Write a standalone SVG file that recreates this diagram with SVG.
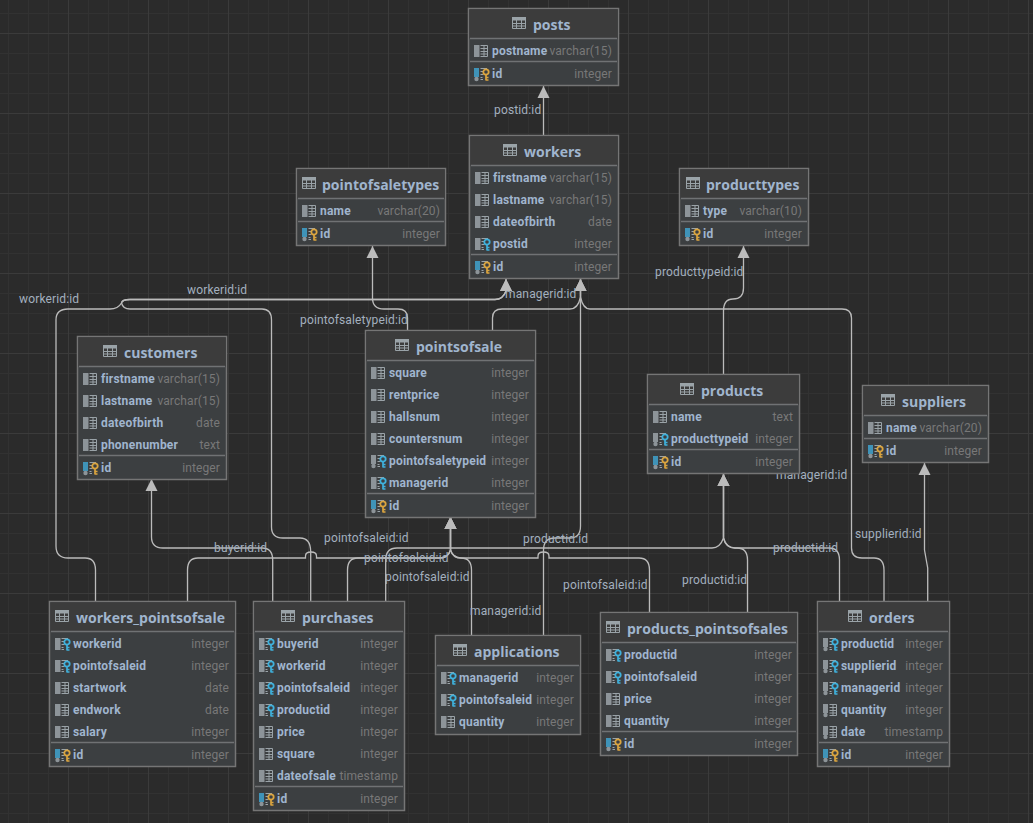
<svg xmlns="http://www.w3.org/2000/svg" xmlns:xlink="http://www.w3.org/1999/xlink" width="1033" height="823" viewBox="0 0 1033 823">
<style>
text{font-family:Roboto,"Open Sans","DejaVu Sans",sans-serif}
.nb{fill:#3c3f41;stroke:#757575;stroke-width:1.5}
.th{fill:#3c3c3c}
.sp{stroke:#707274;stroke-width:1.5;fill:none}
.t{font-family:"Open Sans","Noto Sans",sans-serif;font-size:14px;font-weight:700;fill:#a0b5ce}
.n{font-size:12px;font-weight:700;fill:#a0b5ce;letter-spacing:.2px}
.y{font-size:12px;fill:#787878;text-anchor:end;letter-spacing:.1px}
.l{font-size:12px;fill:#a3b0bf;letter-spacing:.15px}
.c{fill:none;stroke:#bbbbbb;stroke-width:1.3}
</style>
<defs>
<pattern id="gm" width="20" height="20" patternUnits="userSpaceOnUse" x="8" y="13"><path d="M0.5 0V20M0 0.5H20" stroke="#323232" fill="none"/></pattern>
<pattern id="gM" width="80" height="80" patternUnits="userSpaceOnUse" x="68" y="33"><path d="M0.5 0V80M0 0.5H80" stroke="#3b3b3b" fill="none"/></pattern>
<marker id="ar" markerUnits="userSpaceOnUse" markerWidth="13" markerHeight="13" refX="12" refY="6.5" orient="auto" viewBox="0 0 13 13"><path d="M12 6.5L0 0.5V12.5Z" fill="#bbbbbb"/></marker>
<g id="tb"><path d="M0.5 0.5H13.5V11.5H0.5Z" fill="#3c3c3c" stroke="#9aa3a8"/><path d="M0 0H14V3.5H0Z" fill="#9aa3a8"/><path d="M0 6.5H14M0 9H14M4.5 3V12M9.5 3V12" stroke="#9aa3a8" fill="none"/></g>
<g id="gr"><path d="M6.5 -5.5H13.5V5.5H6.5M10 -5.5V5.5M6.5 -2.5H13.5M6.5 0.5H13.5M6.5 3H13.5" stroke="#9aa3a8" fill="none"/></g>
<g id="gs"><path d="M6.5 -5.5H13M6.5 -2.5H9M6.5 0.5H9M6.5 3.5H8.5M6.5 5.5H9" stroke="#9aa3a8" fill="none"/></g>
<g id="col"><rect x="0" y="-6" width="5.5" height="12" fill="#8d9499"/><use href="#gr"/></g>
<g id="cold"><rect x="0" y="-6" width="5" height="9" fill="#8d9499"/><circle cx="2.5" cy="5" r="2.2" fill="#8d9499"/><use href="#gr"/></g>
<g id="ky"><circle cx="12" cy="-2" r="2.7" fill="none" stroke="#3fb1dc" stroke-width="1.8"/><path d="M12 0.5V6.5M12 3.5H14.5M12 6H14.5" stroke="#3fb1dc" stroke-width="1.7" fill="none"/></g>
<g id="fk"><rect x="0" y="-6" width="5.5" height="12" fill="#8d9499"/><use href="#gs"/><use href="#ky"/></g>
<g id="fkd"><rect x="0" y="-6" width="5" height="9" fill="#8d9499"/><circle cx="2.5" cy="5" r="2.2" fill="#8d9499"/><use href="#gs"/><use href="#ky"/></g>
<g id="pk"><rect x="0" y="-6" width="5" height="9" fill="#3f93b8"/><circle cx="2.5" cy="5" r="2.2" fill="#8d9499"/><use href="#gs"/><circle cx="12" cy="-2" r="2.7" fill="none" stroke="#dba53f" stroke-width="1.8"/><path d="M12 0.5V6.5M12 3.5H14.5M12 6H14.5" stroke="#dba53f" stroke-width="1.7" fill="none"/></g>
</defs>
<rect width="1033" height="823" fill="#2b2b2b"/>
<rect width="1033" height="823" fill="url(#gm)"/>
<rect width="1033" height="823" fill="url(#gM)"/>

<g id="connectors">
<path class="c" marker-end="url(#ar)" d="M543.5 135V86"/>
<path class="c" marker-end="url(#ar)" d="M407.5 330V318Q407.5 309 398 309H384Q372.5 309 372.5 298V246"/>
<path class="c" marker-end="url(#ar)" d="M492.5 330V318Q492.5 309 502 309H570Q578 309 580.5 297V279"/>
<path class="c" marker-end="url(#ar)" d="M884 601V570Q884 558 874 558H862Q851.5 558 851.5 548V318Q851.5 309 842 309H590Q583 309 580.5 297V279"/>
<path class="c" marker-end="url(#ar)" d="M543.5 635V550Q543.5 538 555 538H570Q580.5 538 580.5 526V279"/>
<path class="c" marker-end="url(#ar)" d="M95.5 601V570Q95.5 558 85 558H68Q56 558 56 546V320Q56 309 68 309H110Q118 309 121.5 303Q122 299.5 130 299.5H495Q503 299.5 506 291V279"/>
<path class="c" marker-end="url(#ar)" d="M310.7 601V552Q310.7 538 300 538H283Q271.5 538 271.5 527V320Q271.5 309 262 309H130Q123 309 121.5 303Q122 299.5 130 299.5H495Q503 299.5 506 291V279"/>
<path class="c" marker-end="url(#ar)" d="M272.7 601V560Q272.7 548 262 548H163Q151.5 548 151.5 537V479"/>
<path class="c" marker-end="url(#ar)" d="M187.5 601V570Q187.5 558 198 558H305.5V556Q305.5 552 311 552Q316.5 552 316.5 556V558H440Q448 558 450.5 550V517"/>
<path class="c" marker-end="url(#ar)" d="M347.5 601V570Q347.5 558 358 558H440Q448 558 450.5 550V517"/>
<path class="c" marker-end="url(#ar)" d="M471.5 635V570Q471.5 558 461 558Q453 558 450.5 550V517"/>
<path class="c" marker-end="url(#ar)" d="M649.5 612V570Q649.5 558 639 558H549V556Q549 552 543.5 552Q538 552 538 556V558H461Q453 558 450.5 550V517"/>
<path class="c" marker-end="url(#ar)" d="M385.7 601V560Q385.7 548 397 548H712Q720 548 723.5 538V474"/>
<path class="c" marker-end="url(#ar)" d="M747.5 612V560Q747.5 548 737 548H735Q726 548 723.5 538V474"/>
<path class="c" marker-end="url(#ar)" d="M839.5 601V560Q839.5 548 829 548H735Q726 548 723.5 538V474"/>
<path class="c" marker-end="url(#ar)" d="M723.5 374V311Q723.5 299 733 299Q743.5 299 743.5 288V246"/>
<path class="c" marker-end="url(#ar)" d="M927.7 601V568L924.5 550V463"/>
</g>

<g id="labels">
<text class="l" x="494" y="114">postid:id</text>
<text class="l" x="19" y="303">workerid:id</text>
<text class="l" x="187" y="294">workerid:id</text>
<text class="l" x="300" y="324">pointofsaletypeid:id</text>
<text class="l" x="505" y="298">managerid:id</text>
<text class="l" x="655" y="276">producttypeid:id</text>
<text class="l" x="214" y="552">buyerid:id</text>
<text class="l" x="324" y="542">pointofsaleid:id</text>
<text class="l" x="364" y="562">pointofsaleid:id</text>
<text class="l" x="385" y="581">pointofsaleid:id</text>
<text class="l" x="563" y="589">pointofsaleid:id</text>
<text class="l" x="523" y="543">productid:id</text>
<text class="l" x="682" y="584">productid:id</text>
<text class="l" x="773" y="552">productid:id</text>
<text class="l" x="776" y="479">managerid:id</text>
<text class="l" x="470" y="615">managerid:id</text>
<text class="l" x="855" y="538">supplierid:id</text>
</g>

<g id="posts">
<rect class="nb" x="468.5" y="8.5" width="150" height="77"/><rect class="th" x="469.3" y="9.3" width="148.5" height="29"/>
<path class="sp" d="M470 38.5H617M470 61.5H617"/>
<use href="#tb" x="512" y="17"/><text class="t" x="533" y="30">posts</text>
<use href="#col" x="474" y="51"/><text class="n" x="492" y="55">postname</text><text class="y" x="612" y="55">varchar(15)</text>
<use href="#pk" x="474" y="74"/><text class="n" x="492" y="78">id</text><text class="y" x="612" y="78">integer</text>
</g>

<g id="workers">
<rect class="nb" x="469.5" y="135.5" width="149" height="143"/><rect class="th" x="470.3" y="136.3" width="147.5" height="29"/>
<path class="sp" d="M471 165.5H617M471 254.5H617"/>
<use href="#tb" x="503" y="144"/><text class="t" x="524" y="157">workers</text>
<use href="#col" x="475" y="178"/><text class="n" x="493" y="182">firstname</text><text class="y" x="612" y="182">varchar(15)</text>
<use href="#col" x="475" y="200"/><text class="n" x="493" y="204">lastname</text><text class="y" x="612" y="204">varchar(15)</text>
<use href="#col" x="475" y="222"/><text class="n" x="493" y="226">dateofbirth</text><text class="y" x="612" y="226">date</text>
<use href="#fk" x="475" y="244"/><text class="n" x="493" y="248">postid</text><text class="y" x="612" y="248">integer</text>
<use href="#pk" x="475" y="267"/><text class="n" x="493" y="271">id</text><text class="y" x="612" y="271">integer</text>
</g>

<g id="pointofsaletypes">
<rect class="nb" x="296.5" y="168.5" width="149" height="77"/><rect class="th" x="297.3" y="169.3" width="147.5" height="29"/>
<path class="sp" d="M298 198.5H444M298 221.5H444"/>
<use href="#tb" x="302" y="177"/><text class="t" x="322" y="190">pointofsaletypes</text>
<use href="#col" x="302" y="211"/><text class="n" x="320" y="215">name</text><text class="y" x="440" y="215">varchar(20)</text>
<use href="#pk" x="302" y="234"/><text class="n" x="320" y="238">id</text><text class="y" x="440" y="238">integer</text>
</g>

<g id="producttypes">
<rect class="nb" x="679.5" y="168.5" width="129" height="77"/><rect class="th" x="680.3" y="169.3" width="127.5" height="29"/>
<path class="sp" d="M681 198.5H807M681 221.5H807"/>
<use href="#tb" x="686" y="177"/><text class="t" x="706" y="190">producttypes</text>
<use href="#col" x="685" y="211"/><text class="n" x="703" y="215">type</text><text class="y" x="802" y="215">varchar(10)</text>
<use href="#pk" x="685" y="234"/><text class="n" x="703" y="238">id</text><text class="y" x="802" y="238">integer</text>
</g>

<g id="customers">
<rect class="nb" x="77.5" y="336.5" width="149" height="143"/><rect class="th" x="78.3" y="337.3" width="147.5" height="29"/>
<path class="sp" d="M79 366.5H225M79 455.5H225"/>
<use href="#tb" x="103" y="345"/><text class="t" x="124" y="358">customers</text>
<use href="#col" x="83" y="379"/><text class="n" x="101" y="383">firstname</text><text class="y" x="220" y="383">varchar(15)</text>
<use href="#col" x="83" y="401"/><text class="n" x="101" y="405">lastname</text><text class="y" x="220" y="405">varchar(15)</text>
<use href="#col" x="83" y="423"/><text class="n" x="101" y="427">dateofbirth</text><text class="y" x="220" y="427">date</text>
<use href="#col" x="83" y="445"/><text class="n" x="101" y="449">phonenumber</text><text class="y" x="220" y="449">text</text>
<use href="#pk" x="83" y="468"/><text class="n" x="101" y="472">id</text><text class="y" x="220" y="472">integer</text>
</g>

<g id="pointsofsale">
<rect class="nb" x="365.5" y="330.5" width="170" height="187"/><rect class="th" x="366.3" y="331.3" width="168.5" height="29"/>
<path class="sp" d="M367 360.5H534M367 493.5H534"/>
<use href="#tb" x="395" y="339"/><text class="t" x="416" y="352">pointsofsale</text>
<use href="#col" x="371" y="373"/><text class="n" x="389" y="377">square</text><text class="y" x="529" y="377">integer</text>
<use href="#col" x="371" y="395"/><text class="n" x="389" y="399">rentprice</text><text class="y" x="529" y="399">integer</text>
<use href="#col" x="371" y="417"/><text class="n" x="389" y="421">hallsnum</text><text class="y" x="529" y="421">integer</text>
<use href="#col" x="371" y="439"/><text class="n" x="389" y="443">countersnum</text><text class="y" x="529" y="443">integer</text>
<use href="#fkd" x="371" y="461"/><text class="n" x="389" y="465">pointofsaletypeid</text><text class="y" x="529" y="465">integer</text>
<use href="#fk" x="371" y="483"/><text class="n" x="389" y="487">managerid</text><text class="y" x="529" y="487">integer</text>
<use href="#pk" x="371" y="506"/><text class="n" x="389" y="510">id</text><text class="y" x="529" y="510">integer</text>
</g>

<g id="products">
<rect class="nb" x="647.5" y="374.5" width="152" height="99"/><rect class="th" x="648.3" y="375.3" width="150.5" height="29"/>
<path class="sp" d="M649 404.5H798M649 449.5H798"/>
<use href="#tb" x="680" y="383"/><text class="t" x="701" y="396">products</text>
<use href="#col" x="653" y="417"/><text class="n" x="671" y="421">name</text><text class="y" x="793" y="421">text</text>
<use href="#fkd" x="653" y="439"/><text class="n" x="671" y="443">producttypeid</text><text class="y" x="793" y="443">integer</text>
<use href="#pk" x="653" y="462"/><text class="n" x="671" y="466">id</text><text class="y" x="793" y="466">integer</text>
</g>

<g id="suppliers">
<rect class="nb" x="862.5" y="385.5" width="126" height="77"/><rect class="th" x="863.3" y="386.3" width="124.5" height="29"/>
<path class="sp" d="M864 415.5H987M864 438.5H987"/>
<use href="#tb" x="881" y="394"/><text class="t" x="902" y="407">suppliers</text>
<use href="#col" x="868" y="428"/><text class="n" x="886" y="432">name</text><text class="y" x="982" y="432">varchar(20)</text>
<use href="#pk" x="868" y="451"/><text class="n" x="886" y="455">id</text><text class="y" x="982" y="455">integer</text>
</g>

<g id="workers_pointsofsale">
<rect class="nb" x="49.5" y="601.5" width="186" height="165"/><rect class="th" x="50.3" y="602.3" width="184.5" height="29"/>
<path class="sp" d="M51 631.5H234M51 742.5H234"/>
<use href="#tb" x="55" y="610"/><text class="t" x="76" y="623">workers_pointsofsale</text>
<use href="#fk" x="55" y="644"/><text class="n" x="73" y="648">workerid</text><text class="y" x="229" y="648">integer</text>
<use href="#fk" x="55" y="666"/><text class="n" x="73" y="670">pointofsaleid</text><text class="y" x="229" y="670">integer</text>
<use href="#col" x="55" y="688"/><text class="n" x="73" y="692">startwork</text><text class="y" x="229" y="692">date</text>
<use href="#col" x="55" y="710"/><text class="n" x="73" y="714">endwork</text><text class="y" x="229" y="714">date</text>
<use href="#col" x="55" y="732"/><text class="n" x="73" y="736">salary</text><text class="y" x="229" y="736">integer</text>
<use href="#pk" x="55" y="755"/><text class="n" x="73" y="759">id</text><text class="y" x="229" y="759">integer</text>
</g>

<g id="purchases">
<rect class="nb" x="253.5" y="601.5" width="151" height="209"/><rect class="th" x="254.3" y="602.3" width="149.5" height="29"/>
<path class="sp" d="M255 631.5H403M255 786.5H403"/>
<use href="#tb" x="281" y="610"/><text class="t" x="302" y="623">purchases</text>
<use href="#fk" x="259" y="644"/><text class="n" x="277" y="648">buyerid</text><text class="y" x="398" y="648">integer</text>
<use href="#fk" x="259" y="666"/><text class="n" x="277" y="670">workerid</text><text class="y" x="398" y="670">integer</text>
<use href="#fk" x="259" y="688"/><text class="n" x="277" y="692">pointofsaleid</text><text class="y" x="398" y="692">integer</text>
<use href="#fk" x="259" y="710"/><text class="n" x="277" y="714">productid</text><text class="y" x="398" y="714">integer</text>
<use href="#col" x="259" y="732"/><text class="n" x="277" y="736">price</text><text class="y" x="398" y="736">integer</text>
<use href="#col" x="259" y="754"/><text class="n" x="277" y="758">square</text><text class="y" x="398" y="758">integer</text>
<use href="#col" x="259" y="776"/><text class="n" x="277" y="780">dateofsale</text><text class="y" x="398" y="780">timestamp</text>
<use href="#pk" x="259" y="799"/><text class="n" x="277" y="803">id</text><text class="y" x="398" y="803">integer</text>
</g>

<g id="applications">
<rect class="nb" x="435.5" y="635.5" width="145" height="99"/><rect class="th" x="436.3" y="636.3" width="143.5" height="29"/>
<path class="sp" d="M437 665.5H579"/>
<use href="#tb" x="453" y="644"/><text class="t" x="474" y="657">applications</text>
<use href="#fk" x="441" y="678"/><text class="n" x="459" y="682">managerid</text><text class="y" x="574" y="682">integer</text>
<use href="#fk" x="441" y="700"/><text class="n" x="459" y="704">pointofsaleid</text><text class="y" x="574" y="704">integer</text>
<use href="#col" x="441" y="722"/><text class="n" x="459" y="726">quantity</text><text class="y" x="574" y="726">integer</text>
</g>

<g id="products_pointsofsales">
<rect class="nb" x="600.5" y="612.5" width="197" height="143"/><rect class="th" x="601.3" y="613.3" width="195.5" height="29"/>
<path class="sp" d="M602 642.5H796M602 731.5H796"/>
<use href="#tb" x="606" y="621"/><text class="t" x="627" y="634">products_pointsofsales</text>
<use href="#fk" x="606" y="655"/><text class="n" x="624" y="659">productid</text><text class="y" x="792" y="659">integer</text>
<use href="#fk" x="606" y="677"/><text class="n" x="624" y="681">pointofsaleid</text><text class="y" x="792" y="681">integer</text>
<use href="#col" x="606" y="699"/><text class="n" x="624" y="703">price</text><text class="y" x="792" y="703">integer</text>
<use href="#col" x="606" y="721"/><text class="n" x="624" y="725">quantity</text><text class="y" x="792" y="725">integer</text>
<use href="#pk" x="606" y="744"/><text class="n" x="624" y="748">id</text><text class="y" x="792" y="748">integer</text>
</g>

<g id="orders">
<rect class="nb" x="817.5" y="601.5" width="132" height="165"/><rect class="th" x="818.3" y="602.3" width="130.5" height="29"/>
<path class="sp" d="M819 631.5H948M819 742.5H948"/>
<use href="#tb" x="848" y="610"/><text class="t" x="869" y="623">orders</text>
<use href="#fkd" x="823" y="644"/><text class="n" x="841" y="648">productid</text><text class="y" x="943" y="648">integer</text>
<use href="#fkd" x="823" y="666"/><text class="n" x="841" y="670">supplierid</text><text class="y" x="943" y="670">integer</text>
<use href="#fkd" x="823" y="688"/><text class="n" x="841" y="692">managerid</text><text class="y" x="943" y="692">integer</text>
<use href="#cold" x="823" y="710"/><text class="n" x="841" y="714">quantity</text><text class="y" x="943" y="714">integer</text>
<use href="#cold" x="823" y="732"/><text class="n" x="841" y="736">date</text><text class="y" x="943" y="736">timestamp</text>
<use href="#pk" x="823" y="755"/><text class="n" x="841" y="759">id</text><text class="y" x="943" y="759">integer</text>
</g>
</svg>
